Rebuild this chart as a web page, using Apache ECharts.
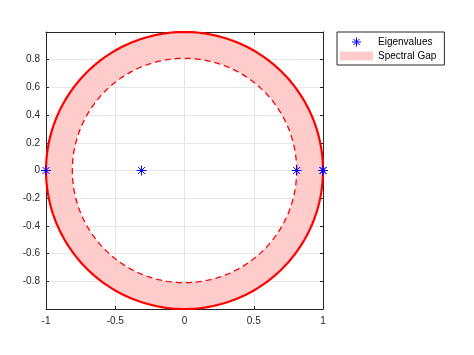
<!DOCTYPE html>
<html>
<head>
<meta charset="utf-8">
<script src="https://cdn.jsdelivr.net/npm/echarts@6/dist/echarts.min.js"></script>
<style>html,body{margin:0;padding:0;background:#fff;}#c{width:474px;height:355px;}</style>
</head>
<body>
<div id="c"></div>
<script>
// Data
var eigenReal = [-1, -0.31, 0.81, 1, 1];
var eigenImag = [0, 0, 0, 0, 0];
var outerRadius = 1;
var innerRadius = 0.81;
var xTicks = [-1, -0.5, 0, 0.5, 1];
var yTicks = [-0.8, -0.6, -0.4, -0.2, 0, 0.2, 0.4, 0.6, 0.8];

var eigenData = eigenReal.map(function (r, i) { return [r, eigenImag[i]]; });
var N = 240;
function circlePts(api, r) {
  var pts = [];
  for (var k = 0; k <= N; k++) {
    var t = 2 * Math.PI * k / N;
    pts.push(api.coord([r * Math.cos(t), r * Math.sin(t)]));
  }
  return pts;
}
var asterisk = 'path://M0,-10L0,10M-10,0L10,0M-7,-7L7,7M-7,7L7,-7';
var font = 'Liberation Sans, Arial, Helvetica, sans-serif';
var axisCol = '#262626';

var chart = echarts.init(document.getElementById('c'));
chart.setOption({
  animation: false,
  backgroundColor: '#fff',
  grid: { left: 46, right: 151, top: 32, bottom: 46, show: false },
  legend: {
    orient: 'vertical', left: 337, top: 32,
    data: [
      { name: 'Eigenvalues', icon: asterisk, itemStyle: { color: 'none', borderColor: '#0000ff', borderWidth: 1 } },
      { name: 'Spectral Gap', icon: 'rect', itemStyle: { color: '#ffcccc' } }
    ],
    itemWidth: 33, itemHeight: 9, itemGap: 1,
    padding: [3, 8, 3, 3],
    borderColor: '#262626', borderWidth: 1, backgroundColor: '#fff', borderRadius: 0,
    textStyle: { fontFamily: font, fontSize: 10, color: '#000', lineHeight: 12 },
    selectedMode: false
  },
  xAxis: [{
    type: 'value', min: -1, max: 1, interval: 0.5, position: 'bottom',
    axisLine: { show: true, onZero: false, lineStyle: { color: axisCol, width: 1 } },
    axisTick: { show: true, inside: true, length: 3, lineStyle: { color: axisCol } },
    axisLabel: { fontFamily: font, fontSize: 10, color: axisCol, margin: 7 },
    splitLine: { show: true, lineStyle: { color: '#e6e6e6', width: 1 } }
  }, {
    type: 'value', min: -1, max: 1, interval: 0.5, position: 'top',
    axisLine: { show: true, onZero: false, lineStyle: { color: axisCol, width: 1 } },
    axisTick: { show: true, inside: true, length: 3, lineStyle: { color: axisCol } },
    axisLabel: { show: false }, splitLine: { show: false }
  }],
  yAxis: [{
    type: 'value', min: -1, max: 1, interval: 0.2, position: 'left',
    axisLine: { show: true, onZero: false, lineStyle: { color: axisCol, width: 1 } },
    axisTick: { show: true, inside: true, length: 3, lineStyle: { color: axisCol } },
    axisLabel: {
      fontFamily: font, fontSize: 10, color: axisCol, margin: 6,
      formatter: function (v) {
        if (Math.abs(Math.abs(v) - 1) < 1e-9) return '';
        var r = Math.round(v * 10) / 10;
        return yTicks.indexOf(r) >= 0 ? String(r) : '';
      }
    },
    splitLine: { show: true, lineStyle: { color: '#e6e6e6', width: 1 } }
  }, {
    type: 'value', min: -1, max: 1, interval: 0.2, position: 'right',
    axisLine: { show: true, onZero: false, lineStyle: { color: axisCol, width: 1 } },
    axisTick: { show: true, inside: true, length: 3, lineStyle: { color: axisCol } },
    axisLabel: { show: false }, splitLine: { show: false }
  }],
  series: [
    {
      name: 'Spectral Gap', type: 'custom', xAxisIndex: 0, yAxisIndex: 0,
      data: [[outerRadius, innerRadius]], z: 2, silent: true,
      itemStyle: { color: '#ffcccc' },
      renderItem: function (params, api) {
        var ro = api.value(0), ri = api.value(1);
        var outer = circlePts(api, ro);
        var inner = circlePts(api, ri).reverse();
        return {
          type: 'group',
          children: [
            { type: 'polygon', shape: { points: outer.concat(inner) }, style: { fill: '#ffcccc', stroke: null } },
            { type: 'polyline', shape: { points: circlePts(api, ri) }, style: { fill: null, stroke: '#ff0000', lineWidth: 1.3, lineDash: [6, 4] } },
            { type: 'polyline', shape: { points: outer }, style: { fill: null, stroke: '#ff0000', lineWidth: 2.2 } }
          ]
        };
      }
    },
    {
      name: 'Eigenvalues', type: 'scatter', xAxisIndex: 0, yAxisIndex: 0,
      data: eigenData, symbol: asterisk, symbolSize: 10, z: 5, silent: true,
      itemStyle: { color: 'none', borderColor: '#0000ff', borderWidth: 1, opacity: 1 }
    }
  ]
});
</script>
</body>
</html>
